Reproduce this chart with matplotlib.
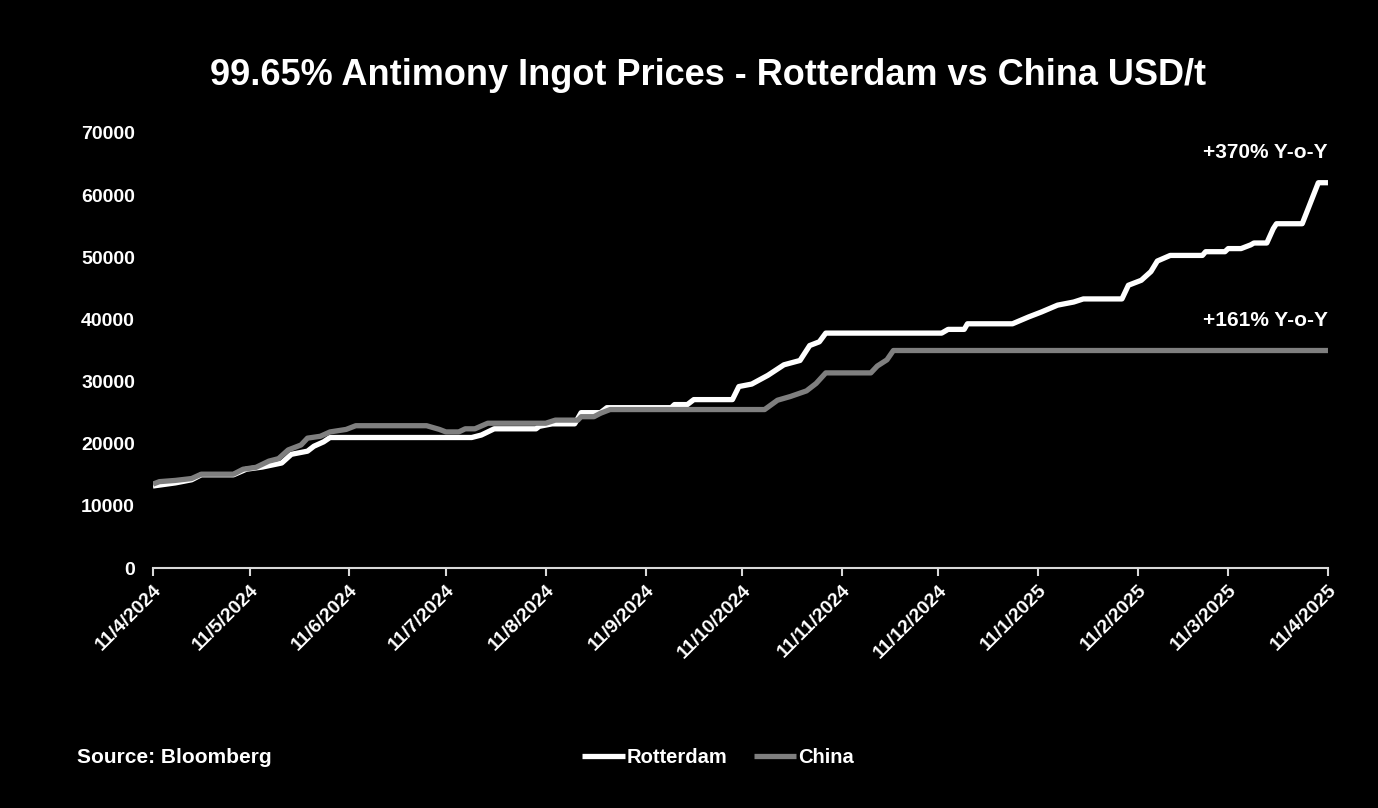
"""
99.65% antimony ingot prices, Rotterdam vs China (USD/t), dark slide style.
"""
import matplotlib
matplotlib.use("Agg")
import pandas as pd
import matplotlib.pyplot as plt
import matplotlib.dates as mdates
from matplotlib.ticker import FuncFormatter

plt.rcParams["font.family"] = ["Liberation Sans", "DejaVu Sans"]
plt.rcParams["font.weight"] = "bold"

# values
rot_dates = ["2024-04-11", "2024-04-18", "2024-04-23", "2024-04-26", "2024-05-06",
             "2024-05-10", "2024-05-15", "2024-05-21", "2024-05-24", "2024-05-29",
             "2024-05-31", "2024-06-03", "2024-06-05", "2024-07-19", "2024-07-22",
             "2024-07-26", "2024-08-08", "2024-08-09", "2024-08-13", "2024-08-20",
             "2024-08-22", "2024-08-28", "2024-08-30", "2024-09-19", "2024-09-20",
             "2024-09-24", "2024-09-26", "2024-10-08", "2024-10-10", "2024-10-14",
             "2024-10-19", "2024-10-24", "2024-10-29", "2024-11-01", "2024-11-04",
             "2024-11-06", "2024-12-12", "2024-12-14", "2024-12-19", "2024-12-20",
             "2025-01-03", "2025-01-08", "2025-01-12", "2025-01-17", "2025-01-22",
             "2025-01-25", "2025-02-06", "2025-02-08", "2025-02-12", "2025-02-15",
             "2025-02-17", "2025-02-21", "2025-03-03", "2025-03-04", "2025-03-10",
             "2025-03-11", "2025-03-15", "2025-03-18", "2025-03-19", "2025-03-23",
             "2025-03-25", "2025-03-26", "2025-04-03", "2025-04-08", "2025-04-11"]
rot_vals = [13200, 13700, 14200, 15000, 15000,
            15900, 16250, 16900, 18300, 18800,
            19600, 20300, 21000, 21000, 21400,
            22400, 22400, 22800, 23200, 23200,
            25000, 25000, 25800, 25800, 26300,
            26300, 27100, 27100, 29200, 29600,
            31000, 32700, 33400, 35800, 36400,
            37800, 37800, 38400, 38400, 39300,
            39300, 40400, 41200, 42300, 42800,
            43300, 43300, 45500, 46300, 47700,
            49400, 50300, 50300, 50900, 50900,
            51400, 51400, 52000, 52300, 52300,
            54600, 55400, 55400, 62000, 62000]

chn_dates = ["2024-04-11", "2024-04-13", "2024-04-18", "2024-04-23", "2024-04-26",
             "2024-05-06", "2024-05-09", "2024-05-13", "2024-05-17", "2024-05-20",
             "2024-05-23", "2024-05-27", "2024-05-29", "2024-06-02", "2024-06-05",
             "2024-06-10", "2024-06-13", "2024-07-05", "2024-07-09", "2024-07-11",
             "2024-07-15", "2024-07-17", "2024-07-20", "2024-07-24", "2024-08-11",
             "2024-08-14", "2024-08-21", "2024-08-22", "2024-08-26", "2024-08-28",
             "2024-08-31", "2024-10-18", "2024-10-22", "2024-10-26", "2024-10-31",
             "2024-11-03", "2024-11-06", "2024-11-20", "2024-11-22", "2024-11-25",
             "2024-11-27", "2025-04-11"]
chn_vals = [13500, 13900, 14100, 14400, 15100,
            15100, 15900, 16200, 17200, 17600,
            19000, 19800, 20900, 21200, 21900,
            22300, 22900, 22900, 22300, 21900,
            21900, 22400, 22400, 23300, 23300,
            23800, 23800, 24350, 24350, 24900,
            25500, 25500, 27000, 27600, 28500,
            29700, 31400, 31400, 32500, 33500,
            35000, 35000]

tick_dates = pd.date_range("2024-04-01", "2025-04-01", freq="MS") + pd.Timedelta(days=10)
y_ticks = list(range(0, 70001, 10000))

WHITE = "#ffffff"
GREY = "#7f7f7f"

fig = plt.figure(figsize=(13.78, 8.08), dpi=100, facecolor="black")
ax = fig.add_axes([0.111, 0.297, 0.8527, 0.5384], facecolor="black")

ax.plot(pd.to_datetime(rot_dates), rot_vals, color=WHITE, lw=3.8,
        solid_joinstyle="round", solid_capstyle="butt", label="Rotterdam", zorder=2)
ax.plot(pd.to_datetime(chn_dates), chn_vals, color=GREY, lw=3.8,
        solid_joinstyle="round", solid_capstyle="butt", label="China", zorder=3)

ax.set_xlim(pd.Timestamp("2024-04-11"), pd.Timestamp("2025-04-11"))
ax.set_ylim(0, 70000)
ax.set_yticks(y_ticks)
ax.set_xticks(tick_dates)
ax.xaxis.set_major_formatter(FuncFormatter(
    lambda v, p: (lambda d: f"{d.day}/{d.month}/{d.year}")(mdates.num2date(v))))

for s in ["top", "right", "left"]:
    ax.spines[s].set_visible(False)
ax.spines["bottom"].set_color("#d9d9d9")
ax.spines["bottom"].set_linewidth(1.5)
ax.tick_params(axis="x", colors="#d9d9d9", length=6, width=1.5, direction="out", pad=4)
ax.tick_params(axis="y", length=0, pad=13)
for lab in ax.get_xticklabels():
    lab.set_rotation(45)
    lab.set_ha("right")
    lab.set_rotation_mode("anchor")
    lab.set_color("white")
    lab.set_fontsize(14)
    lab.set_fontweight("bold")
for lab in ax.get_yticklabels():
    lab.set_color("white")
    lab.set_fontsize(14)
    lab.set_fontweight("bold")

ax.text(1.0, 62000 + 3300, "+370% Y-o-Y", transform=ax.get_yaxis_transform(),
        ha="right", va="bottom", color="white", fontsize=15, fontweight="bold")
ax.text(1.0, 35000 + 3300, "+161% Y-o-Y", transform=ax.get_yaxis_transform(),
        ha="right", va="bottom", color="white", fontsize=15, fontweight="bold")

fig.text(0.514, 0.907, "99.65% Antimony Ingot Prices - Rotterdam vs China USD/t",
         ha="center", va="center", color="white", fontsize=26, fontweight="bold")
fig.text(0.056, 0.063, "Source: Bloomberg", ha="left", va="center",
         color="white", fontsize=15, fontweight="bold")

leg = fig.legend(loc="center", bbox_to_anchor=(0.521, 0.063), ncol=2, frameon=False,
                 handlelength=2.1, handletextpad=0.1, columnspacing=1.3,
                 prop={"size": 14.5, "weight": "bold"})
for t in leg.get_texts():
    t.set_color("white")

fig.savefig("out.png", dpi=100, facecolor="black")
plt.close(fig)
